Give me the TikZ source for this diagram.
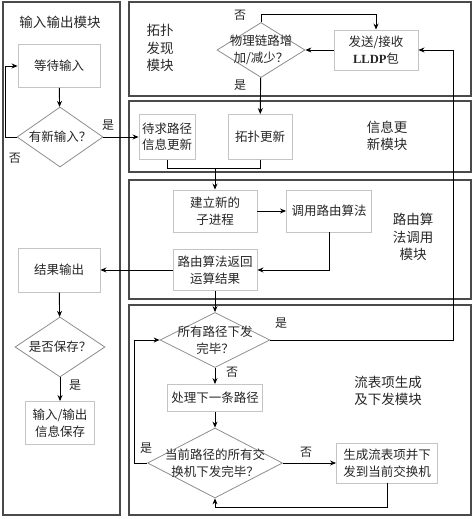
\documentclass[tikz,border=0pt]{standalone}
\usepackage{fontspec}
\setmainfont{Noto Sans CJK SC}
\newfontfamily\latinserif{Liberation Serif}
\usetikzlibrary{arrows.meta,shapes.geometric,positioning,calc}
\definecolor{framegray}{HTML}{4A4A4A}
\definecolor{boxgray}{HTML}{C4C4C4}
\definecolor{condgray}{HTML}{8E8E8E}

\begin{document}
\begin{tikzpicture}[
  x=1pt,y=-1pt,
  every node/.style={font=\fontsize{12.5}{16.5}\selectfont,align=center,text=black!85},
  flow/.style={-{Stealth[length=6pt,width=5pt]},line width=0.9pt},
  wire/.style={line width=0.9pt},
  module/.style={draw=framegray,line width=1.3pt},
  box/.style={draw=boxgray,line width=0.9pt,fill=white,inner sep=2pt},
  cond/.style={diamond,draw=condgray,line width=0.8pt,fill=white,inner sep=-6pt,aspect=1.8},
  title/.style={font=\fontsize{13.5}{17.5}\selectfont},
  tag/.style={font=\fontsize{12}{14}\selectfont}
]
\useasboundingbox (0,0) rectangle (474,519);

% module frames
\draw[module] (3,2) rectangle (120,515);
\draw[module] (129,2) rectangle (471,96);
\draw[module] (129,101) rectangle (471,172);
\draw[module] (129,180) rectangle (471,299);
\draw[module] (129,305) rectangle (471,515);

% input / output module
\node[title] (iotitle) at (60,22) {输入输出模块};
\node[box,minimum width=82,minimum height=43] (wait) at (59,66) {等待输入};
\node[cond,minimum width=86,minimum height=60] (newin) at (60,137) {有新输入？};
\node[box,minimum width=82,minimum height=44] (result) at (59,270) {结果输出};
\node[cond,minimum width=90,minimum height=60] (save) at (60,347) {是否保存？};
\node[box,minimum width=69,minimum height=43] (store) at (60,423) {输入/输出\\信息保存};

% topology discovery module
\node[title] (topotitle) at (160,48) {拓扑\\发现\\模块};
\node[cond,minimum width=88,minimum height=55] (linkchg) at (261,50) {物理链路增\\加/减少？};
\node[box,minimum width=84,minimum height=40] (lldp) at (376,50) {发送/接收\\{\latinserif\bfseries LLDP}包};

% information update module
\node[box,minimum width=56,minimum height=45] (pending) at (167,137) {待求路径\\信息更新};
\node[box,minimum width=64,minimum height=45] (topoup) at (260,137) {拓扑更新};
\node[title] (updtitle) at (387,136) {信息更\\新模块};

% routing module
\node[box,minimum width=84,minimum height=42] (newproc) at (215,211) {建立新的\\子进程};
\node[box,minimum width=85,minimum height=42] (algo) at (329,211) {调用路由算法};
\node[box,minimum width=84,minimum height=41] (ret) at (215,270) {路由算法返回\\运算结果};
\node[title] (routetitle) at (413,237) {路由算\\法调用\\模块};

% flow entry module
\node[cond,minimum width=110,minimum height=55] (alldone) at (215,340) {所有路径下发\\完毕？};
\node[box,minimum width=95,minimum height=27] (nextpath) at (215,398) {处理下一条路径};
\node[cond,minimum width=135,minimum height=70] (swdone) at (215,463) {当前路径的所有交\\换机下发完毕？};
\node[box,minimum width=101,minimum height=40] (genflow) at (387,463) {生成流表项并下\\发到当前交换机};
\node[title] (flowtitle) at (388,391) {流表项生成\\及下发模块};

\coordinate (merge) at (215,168);

% yes / no tags
\node[tag] (newinno) at (15,158) {否};
\node[tag] (newinyes) at (108,125) {是};
\node[tag] (linkno) at (240,15) {否};
\node[tag] (linkyes) at (240,85) {是};
\node[tag] (saveyes) at (75,385) {是};
\node[tag] (alldoneyes) at (281,323) {是};
\node[tag] (alldoneno) at (232,372) {否};
\node[tag] (swdoneno) at (306,452) {否};
\node[tag] (swdoneyes) at (146,448) {是};

% connectors
\draw[flow] (wait) -- (newin);
\draw[flow] (newin.west) -- ++(-11,0) |- (wait.west);
\draw[flow] (newin.east) -- (pending.west);
\draw[flow] (linkchg.north) -- ++(0,-8) -| (lldp.north);
\draw[flow] (lldp) -- (linkchg);
\draw[flow] (linkchg) -- (topoup);
\draw[wire] (pending.south) |- (merge);
\draw[wire] (topoup.south) |- (merge);
\draw[flow] (merge) -- (newproc.north);
\draw[flow] (newproc) -- (algo);
\draw[flow] (algo.south) |- (ret.east);
\draw[flow] (ret) -- (result);
\draw[flow] (result) -- (save);
\draw[flow] (save) -- (store);
\draw[flow] (ret) -- (alldone);
\draw[flow] (alldone) -- (nextpath);
\draw[flow] (nextpath) -- (swdone);
\draw[flow] (swdone) -- (genflow);
\draw[flow] (genflow.south) -- ++(0,24) -| (swdone.south);
\draw[flow] (swdone.west) -- ++(-13,0) |- (alldone.west);
\draw[flow] (alldone.east) -- ++(183,0) |- (lldp.east);
\end{tikzpicture}
\end{document}
